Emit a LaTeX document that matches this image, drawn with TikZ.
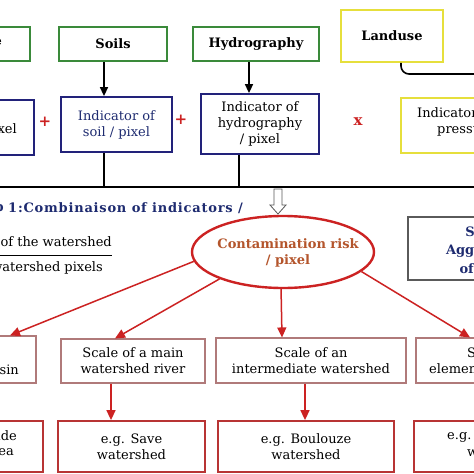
\documentclass[tikz,border=0pt]{standalone}
\usepackage{fontspec}
\setmainfont{DejaVu Serif}
\usetikzlibrary{arrows.meta,shapes.geometric}
\definecolor{grn}{HTML}{3A8A3A}
\definecolor{navyb}{HTML}{22227A}
\definecolor{yel}{HTML}{E6DF3C}
\definecolor{redl}{HTML}{CC2222}
\definecolor{pinkb}{HTML}{B07A7A}
\definecolor{redb}{HTML}{B83434}
\definecolor{navyt}{HTML}{1E2B70}
\definecolor{brn}{HTML}{B4552C}
\definecolor{grayb}{HTML}{5A5A5A}
\begin{document}
\begin{tikzpicture}[x=1pt,y=-1pt,
  txt/.style={inner sep=0pt, align=center, font=\fontsize{13}{16}\selectfont},
  btxt/.style={txt, font=\fontsize{13}{16}\selectfont\bfseries},
  spaced/.style={txt, font=\fontsize{13}{16}\selectfont\bfseries\addfontfeature{LetterSpace=6}},
  greenbox/.style={btxt, draw=grn, line width=1.8pt, text=black, minimum height=34pt},
  bluebox/.style={txt, draw=navyb, line width=1.8pt, minimum height=55pt},
  yelbox/.style={txt, draw=yel, line width=1.8pt},
  scalebox/.style={txt, draw=pinkb, line width=1.1pt, minimum height=45pt},
  exbox/.style={txt, draw=redb, line width=1.8pt, minimum height=51pt},
  blk/.style={line width=1.6pt, -{Triangle[length=9pt,width=8pt]}},
  redarr/.style={redl, line width=1.5pt, -{Triangle[length=10pt,width=9pt]}},
  busline/.style={line width=1.6pt},
  op/.style={text=redl, font=\fontsize{15}{16}\selectfont\bfseries, inner sep=0pt}
]
\useasboundingbox (0,0) rectangle (474,474);
\clip (0,0) rectangle (474,474);
\fill[white] (0,0) rectangle (474,474);

% top row
\node[greenbox, minimum width=90pt] (slope) at (-15,44) {};
\node[btxt, anchor=east] (slopetxt) at (2,42) {Slope};
\node[greenbox, minimum width=108pt] (soils) at (113,44) {Soils};
\node[greenbox, minimum width=126pt] (hydro) at (256,44) {Hydrography};
\node[yelbox, btxt, draw=yel, minimum width=102pt, minimum height=52pt] (landuse) at (392,36) {Landuse};

% indicator row
\node[bluebox, minimum width=114pt] (indslope) at (-23,127.5) {};
\node[txt, anchor=east] (indslopetxt) at (17,130) {/ pixel};
\node[op] (plus1) at (45,122) {+};
\node[bluebox, minimum width=111pt, text=navyt] (indsoil) at (116.5,124.5) {Indicator of\\soil / pixel};
\node[op] (plus2) at (181,120) {+};
\node[bluebox, minimum width=118pt, minimum height=60pt] (indhydro) at (260,124) {Indicator of\\hydrography\\/ pixel};
\node[op] (times) at (358,122) {x};
\node[yelbox, minimum width=120pt, minimum height=55pt] (indpress) at (461,125.5) {};
\node[txt, anchor=west] (presst1) at (417,113) {Indicator of};
\node[txt, anchor=west] (presst2) at (437,131) {pressure};

% arrows top
\draw[blk] (104,0 |- soils.south) -- (104,0 |- indsoil.north);
\draw[blk] (249,0 |- hydro.south) -- (249,0 |- indhydro.north);
\coordinate (luR) at (480,74);
\draw[line width=1.6pt, rounded corners=8pt] (401,0 |- landuse.south) -- (401,74) -- (luR);

% bus
\coordinate (busL) at (-5,187);
\coordinate (busR) at (480,187);
\draw[busline] (busL) -- (busR);
\draw[busline] (104,0 |- indsoil.south) -- (104,187);
\draw[busline] (239,0 |- indhydro.south) -- (239,187);

% step 1 text
\node[spaced, text=navyt, anchor=east] (step1a) at (4,208) {Step};
\node[spaced, text=navyt, anchor=west] (step1b) at (8,208) {1:Combinaison of indicators /};

% fraction
\node[txt, anchor=east] (fracnum) at (112,242) {of the watershed};
\draw[line width=0.9pt] (-5,255) -- (fracnum.east |- 0,255);
\node[txt, anchor=east] (fracden) at (103,268) {watershed pixels};

% ellipse
\node[ellipse, draw=redl, line width=2.4pt, minimum width=182pt, minimum height=72pt, inner sep=0pt] (ell) at (283,252) {};
\node[btxt, text=brn] (elltxt) at (288,253) {Contamination risk\\/ pixel};

% hollow arrow
\draw[grayb, fill=white, line width=0.8pt] (274,189) -- (282,189) -- (282,205) -- (286,205) -- (278,214) -- (270,205) -- (274,205) -- cycle;

% step 2 box
\node[txt, draw=grayb, line width=1.1pt, minimum width=162pt, minimum height=63pt] (step2) at (489,248.5) {};
\node[btxt, text=navyt, font=\fontsize{13}{18.5}\selectfont\bfseries] (step2txt) at (491,250) {Step 2:\\Aggregation\\of scales};

% scale boxes
\node[scalebox, minimum width=146pt, minimum height=47pt] (basin) at (-37,359.5) {};
\node[txt, anchor=east] (basintxt) at (19,370) {basin};
\node[scalebox, minimum width=144pt, minimum height=44pt] (mainriver) at (133,361) {Scale of a main\\watershed river};
\node[scalebox, minimum width=190pt] (inter) at (311,360.5) {Scale of an\\intermediate watershed};
\node[scalebox, minimum width=164pt] (elem) at (498,360.5) {};
\node[txt, anchor=west] (elemt1) at (467,353) {Scale of an};
\node[txt, anchor=west] (elemt2) at (429,370) {elementary watershed};

% red arrows from ellipse
\draw[redarr] (ell.186) -- (10,0 |- basin.north);
\draw[redarr] (ell.203) -- (115,0 |- mainriver.north);
\draw[redarr] (ell.267) -- (282,0 |- inter.north);
\draw[redarr] (ell.346) -- (470,0 |- elem.north);

% example boxes
\node[exbox, minimum width=153pt] (ex1) at (-33.5,446.5) {};
\node[txt, anchor=east] (ex1a) at (17,436) {Gironde};
\node[txt, anchor=east] (ex1b) at (14,452) {area};
\node[exbox, minimum width=147pt] (save) at (131.5,446.5) {e.g. Save\\watershed};
\node[exbox, minimum width=176pt] (boul) at (306,446.5) {e.g. Boulouze\\watershed};
\node[exbox, minimum width=166pt] (ex4) at (497,446.5) {};
\node[txt, anchor=west] (ex4a) at (447,436) {e.g. Montoussé};
\node[txt, anchor=west] (ex4b) at (467,452) {watershed};

% vertical red arrows
\draw[redarr] (111,0 |- mainriver.south) -- (111,0 |- save.north);
\draw[redarr] (305,0 |- inter.south) -- (305,0 |- boul.north);
\end{tikzpicture}
\end{document}
